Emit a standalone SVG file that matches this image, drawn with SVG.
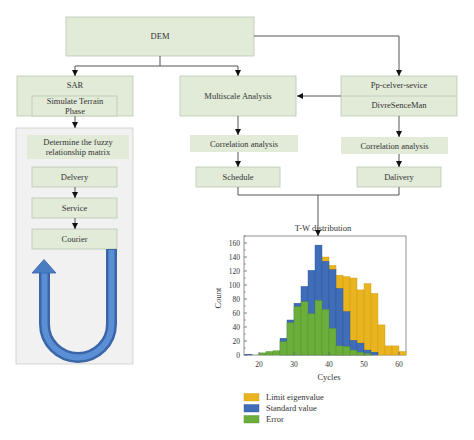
<svg xmlns="http://www.w3.org/2000/svg" width="474" height="440" viewBox="0 0 474 440">
<defs>
<style>
text{font-family:"Liberation Serif","DejaVu Serif",serif;fill:#333;}
.t{font-size:8.5px;text-anchor:middle;}
.box{fill:#E2EBD8;stroke:#BCC7B2;stroke-width:0.8;}
.boxn{fill:#E2EBD8;stroke:none;}
.ln{fill:none;stroke:#555;stroke-width:1;}
.tick{font-size:7.5px;}
.y{fill:#E9B41F;stroke:#C99A10;stroke-width:0.4;}
.b{fill:#3F6DB7;stroke:#2F5596;stroke-width:0.4;}
.g{fill:#6BAE3C;stroke:#558F2C;stroke-width:0.4;}
.ax{stroke:#666;stroke-width:0.8;fill:none;}
</style>
<marker id="ah" viewBox="0 0 6 6" refX="6" refY="3" markerWidth="6" markerHeight="6" markerUnits="userSpaceOnUse" orient="auto">
<path d="M0,0 L6,3 L0,6 z" fill="#111"/>
</marker>
</defs>
<rect width="474" height="440" fill="#fff"/>

<g id="dem">
<rect class="box" x="66" y="17" width="188" height="39"/>
<text class="t" x="160" y="39">DEM</text>
</g>

<g id="sar">
<rect class="box" x="17" y="76" width="116" height="40"/>
<text class="t" x="75" y="88">SAR</text>
<rect class="box" x="32" y="96" width="85" height="20"/>
<text class="t" x="75" y="103.5">Simulate Terrain</text>
<text class="t" x="75" y="113.5">Phase</text>
</g>

<g id="multiscale">
<rect class="box" x="180" y="76" width="116" height="40"/>
<text class="t" x="238" y="98.5">Multiscale Analysis</text>
</g>

<g id="pp">
<rect class="box" x="341" y="76" width="116" height="40"/>
<line x1="341" y1="96" x2="457" y2="96" stroke="#BCC7B2" stroke-width="0.8"/>
<text class="t" x="399" y="88">Pp-celver-sevice</text>
<text class="t" x="399" y="108">DivreSenceMan</text>
</g>

<g id="fuzzy-panel">
<rect x="16" y="128" width="117" height="236" fill="#F1F1F1" stroke="#CCCCCC" stroke-width="0.8"/>
</g>

<g id="fuzzy">
<rect class="boxn" x="27" y="135" width="102" height="24"/>
<text class="t" x="78" y="144.5">Determine the fuzzy</text>
<text class="t" x="78" y="155">relationship matrix</text>
</g>

<g id="delvery">
<rect class="box" x="32" y="167" width="85" height="20"/>
<text class="t" x="74.5" y="179.5">Delvery</text>
</g>

<g id="service">
<rect class="box" x="32" y="198" width="85" height="20"/>
<text class="t" x="74.5" y="210.5">Service</text>
</g>

<g id="courier">
<rect class="box" x="32" y="229" width="85" height="20"/>
<text class="t" x="74.5" y="241.5">Courier</text>
</g>

<g id="u-arrow">
<path d="M44.5,272 V324 A33.5,33.5 0 0 0 111.5,324 V249" fill="none" stroke="#3A66A8" stroke-width="11"/>
<path d="M44.5,272 V324 A33.5,33.5 0 0 0 111.5,324 V250" fill="none" stroke="#5A8ED5" stroke-width="6"/>
<path d="M32,273 L44,259.5 L56,273 Z" fill="#4A7CC2" stroke="#3A66A8" stroke-width="0.8"/>
</g>

<g id="corr-left">
<rect class="boxn" x="190" y="135" width="108" height="17"/>
<text class="t" x="244" y="147">Correlation analysis</text>
</g>

<g id="schedule">
<rect class="box" x="196" y="167" width="84" height="20"/>
<text class="t" x="238" y="179.5">Schedule</text>
</g>

<g id="corr-right">
<rect class="boxn" x="341" y="137" width="107" height="17"/>
<text class="t" x="394.5" y="148.5">Correlation analysis</text>
</g>

<g id="dalivery">
<rect class="box" x="357" y="167" width="84" height="20"/>
<text class="t" x="399" y="179.5">Dalivery</text>
</g>

<g id="chart">
<text class="t" x="323" y="230.5">T-W distribution</text>
<rect x="244" y="236" width="162" height="119" fill="#fff" stroke="#777" stroke-width="0.8"/>
<rect class="y" x="322" y="257" width="7" height="98"/>
<rect class="y" x="329" y="265.4" width="7" height="89.6"/>
<rect class="y" x="336" y="275.2" width="7" height="79.8"/>
<rect class="y" x="343" y="276.6" width="7" height="78.4"/>
<rect class="y" x="350" y="278" width="7" height="77"/>
<rect class="y" x="357" y="289.9" width="7" height="65.1"/>
<rect class="y" x="364" y="283.6" width="7" height="71.4"/>
<rect class="y" x="371" y="293.4" width="7" height="61.6"/>
<rect class="y" x="378" y="324.9" width="7" height="30.1"/>
<rect class="y" x="385" y="345.9" width="7" height="9.1"/>
<rect class="y" x="392" y="345.9" width="7" height="9.1"/>
<rect class="y" x="399" y="351.5" width="7" height="3.5"/>
<rect class="b" x="245" y="354.3" width="7" height="0.7"/>
<rect class="b" x="280" y="338.2" width="7" height="16.8"/>
<rect class="b" x="287" y="320" width="7" height="35"/>
<rect class="b" x="294" y="303.2" width="7" height="51.8"/>
<rect class="b" x="301" y="286.4" width="7" height="68.6"/>
<rect class="b" x="308" y="270.3" width="7" height="84.7"/>
<rect class="b" x="315" y="245.1" width="7" height="109.9"/>
<rect class="b" x="322" y="261.2" width="7" height="93.8"/>
<rect class="b" x="329" y="269.6" width="7" height="85.4"/>
<rect class="b" x="336" y="288.5" width="7" height="66.5"/>
<rect class="b" x="343" y="311.6" width="7" height="43.4"/>
<rect class="b" x="350" y="340.3" width="7" height="14.7"/>
<rect class="b" x="357" y="343.1" width="7" height="11.9"/>
<rect class="b" x="364" y="350.1" width="7" height="4.9"/>
<rect class="b" x="371" y="352.2" width="7" height="2.8"/>
<rect class="g" x="259" y="352.9" width="7" height="2.1"/>
<rect class="g" x="266" y="351.5" width="7" height="3.5"/>
<rect class="g" x="273" y="350.8" width="7" height="4.2"/>
<rect class="g" x="280" y="341.7" width="7" height="13.3"/>
<rect class="g" x="287" y="322.8" width="7" height="32.2"/>
<rect class="g" x="294" y="306.7" width="7" height="48.3"/>
<rect class="g" x="301" y="301.8" width="7" height="53.2"/>
<rect class="g" x="308" y="313.7" width="7" height="41.3"/>
<rect class="g" x="315" y="300.4" width="7" height="54.6"/>
<rect class="g" x="322" y="309.5" width="7" height="45.5"/>
<rect class="g" x="329" y="328.4" width="7" height="26.6"/>
<rect class="g" x="336" y="345.9" width="7" height="9.1"/>
<rect class="g" x="343" y="346.6" width="7" height="8.4"/>
<rect class="g" x="350" y="350.1" width="7" height="4.9"/>
<rect class="g" x="357" y="352.2" width="7" height="2.8"/>
<rect class="g" x="364" y="353.6" width="7" height="1.4"/>
<path class="ax" d="M244,355 h3 M244,341 h3 M244,327 h3 M244,313 h3 M244,299 h3 M244,285 h3 M244,271 h3 M244,257 h3 M244,243 h3 M244,348 h1.5 M244,334 h1.5 M244,320 h1.5 M244,306 h1.5 M244,292 h1.5 M244,278 h1.5 M244,264 h1.5 M244,250 h1.5 M244,236 h1.5"/>
<path class="ax" d="M259,355 v-3 M294,355 v-3 M329,355 v-3 M364,355 v-3 M399,355 v-3"/>
<g class="tick" text-anchor="end">
<text x="240" y="357.5">0</text>
<text x="240" y="343.5">20</text>
<text x="240" y="329.5">40</text>
<text x="240" y="315.5">60</text>
<text x="240" y="301.5">80</text>
<text x="240" y="287.5">100</text>
<text x="240" y="273.5">120</text>
<text x="240" y="259.5">140</text>
<text x="240" y="245.5">160</text>
</g>
<g class="tick" text-anchor="middle">
<text x="259" y="366.5">20</text>
<text x="294" y="366.5">30</text>
<text x="329" y="366.5">40</text>
<text x="364" y="366.5">50</text>
<text x="399" y="366.5">60</text>
</g>
<text class="t" x="0" y="0" transform="translate(221,298) rotate(-90)">Count</text>
<text class="t" x="329" y="379.5">Cycles</text>
</g>

<g id="legend">
<rect class="y" x="244" y="393.5" width="15" height="7.5"/>
<rect class="b" x="244" y="404.5" width="15" height="7.5"/>
<rect class="g" x="244" y="415.5" width="15" height="7.5"/>
<text x="266" y="400" font-size="8.5">Limit eigenvalue</text>
<text x="266" y="411" font-size="8.5">Standard value</text>
<text x="266" y="422" font-size="8.5">Error</text>
</g>

<g id="connectors">
<path class="ln" d="M160,56 V66"/>
<path class="ln" d="M160,66 H75 V76" marker-end="url(#ah)"/>
<path class="ln" d="M160,66 H238 V76" marker-end="url(#ah)"/>
<path class="ln" d="M254,36 H399 V76" marker-end="url(#ah)"/>
<path class="ln" d="M341,96 H297" marker-end="url(#ah)"/>
<path class="ln" d="M75,116 V128" marker-end="url(#ah)"/>
<path class="ln" d="M75,187 V198" marker-end="url(#ah)"/>
<path class="ln" d="M75,218 V229" marker-end="url(#ah)"/>
<path class="ln" d="M238,116 V135" marker-end="url(#ah)"/>
<path class="ln" d="M238,152 V167" marker-end="url(#ah)"/>
<path class="ln" d="M399,116 V137" marker-end="url(#ah)"/>
<path class="ln" d="M399,154 V167" marker-end="url(#ah)"/>
<path class="ln" d="M238,187 V195 H399 V187"/>
<path class="ln" d="M318,195 V236" marker-end="url(#ah)"/>
</g>
</svg>
